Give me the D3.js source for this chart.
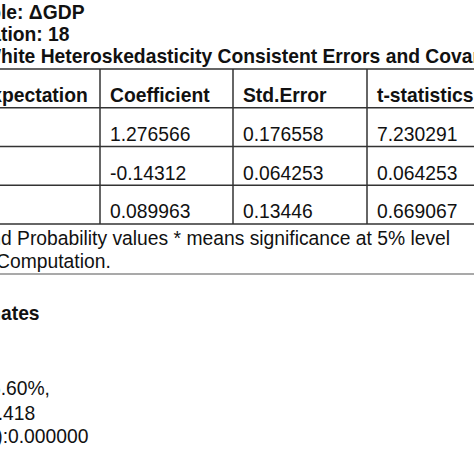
<!DOCTYPE html><html><head><meta charset="utf-8"><script src="https://cdn.jsdelivr.net/npm/d3@7"></script>
<style>body{margin:0;background:#fff}text{font-family:"Liberation Sans",Arial,sans-serif;fill:#111}</style></head><body><svg width="474" height="474"></svg>
<script>
const headers=["Expectation","Coefficient","Std.Error","t-statistics"];
const coefficient=["1.276566","-0.14312","0.089963"];
const stdError=["0.176558","0.064253","0.13446"];
const tStat=["7.230291","0.064253","0.669067"];
const titleLines=[["Dependent Variab","le: ΔGDP",19,1],["Number of Observa","tion: 18",41,1],["W","hite Heteroskedasticity Consistent Errors and Covariance",63,1]];
const footLines=[["Note: t-statistics an","d Probability values * means significance at 5% level",245,false,0],["Source: Author's C","omputation.",268,false,10],["Estim","ates",320,true,0],["R-squared: 76.","60%,",395,false,6],["F-statistic: 32.","418",420,false,3],["Prob(F-statistic): ","0.000000",443,false,8]];
const FS="19.3px";
const svg=d3.select("svg");
function clipText(pre,rest,x,y,bold){
  const t=svg.append("text").attr("y",y).style("font-size",FS).style("font-weight",bold?"bold":"normal").text(pre);
  const w=t.node().getComputedTextLength();t.text(pre+rest).attr("x",x-w);
}
titleLines.forEach(d=>clipText(d[0],d[1],d[3],d[2],true));
const col=d3.scaleOrdinal().domain([0,1,2,3]).range([-30,100,233,367]);
const row=d3.scaleBand().domain(d3.range(4)).range([69,224]);
row.domain().forEach(i=>svg.append("line").attr("x1",0).attr("x2",474).attr("y1",row(i)).attr("y2",row(i)).attr("stroke","#333").attr("stroke-width",1.5));
svg.append("line").attr("x1",0).attr("x2",474).attr("y1",224).attr("y2",224).attr("stroke","#333").attr("stroke-width",1.5);
[1,2,3].forEach(c=>svg.append("line").attr("x1",col(c)).attr("x2",col(c)).attr("y1",69).attr("y2",224).attr("stroke","#333").attr("stroke-width",1.5));
clipText("Ex","pectation",2,row(0)+33,true);
headers.slice(1).forEach((h,i)=>svg.append("text").attr("x",col(i+1)+10).attr("y",row(0)+33).style("font-size",FS).style("font-weight","bold").text(h));
[coefficient,stdError,tStat].forEach((arr,c)=>arr.forEach((v,r)=>svg.append("text").attr("x",col(c+1)+10).attr("y",row(r+1)+33).style("font-size",FS).text(v)));
footLines.forEach(d=>{
  if(d[1]==="omputation."){const t=svg.append("text").attr("y",d[2]).style("font-size",FS).text(d[1]);t.attr("x",d[4]);
    svg.append("text").attr("y",d[2]).attr("x",d[4]).style("font-size",FS).attr("text-anchor","end").text(d[0]);}
  else if(d[4]>2){svg.append("text").attr("x",d[4]).attr("y",d[2]).style("font-size",FS).text(d[1]);
    svg.append("text").attr("x",d[4]).attr("y",d[2]).style("font-size",FS).attr("text-anchor","end").text(d[0]);}
  else clipText(d[0],d[1],d[4]+1,d[2],d[3]);
});
svg.append("line").attr("x1",0).attr("x2",474).attr("y1",274).attr("y2",274).attr("stroke","#555").attr("stroke-width",1.2);
</script></body></html>
